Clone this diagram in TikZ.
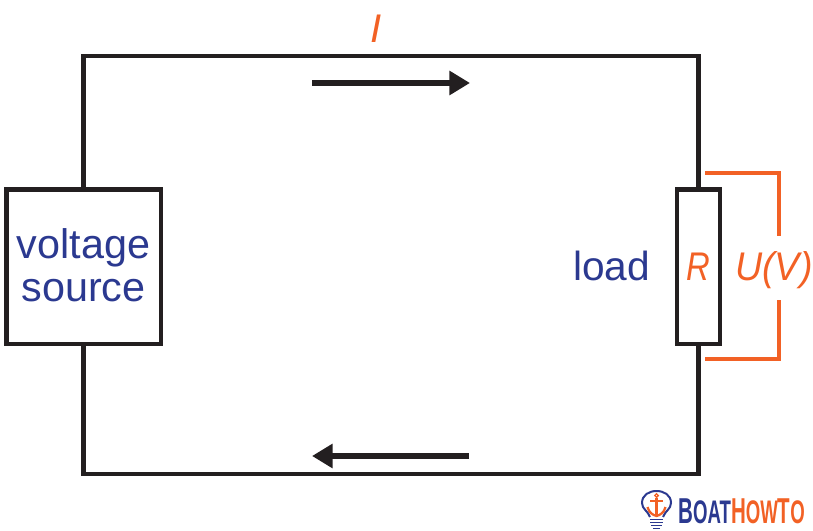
\documentclass[tikz,border=0pt]{standalone}
\usepackage{fontspec}
\setmainfont{Liberation Sans}
\usetikzlibrary{arrows.meta}
\definecolor{wire}{HTML}{231F20}
\definecolor{navy}{HTML}{2B3990}
\definecolor{flame}{HTML}{F26125}
\tikzset{
  wireline/.style={draw=wire,line width=3.5pt,line join=miter},
  box/.style={wireline,fill=white,rectangle,inner sep=0pt},
  flow/.style={draw=wire,line width=4pt,-{Triangle[length=15.5pt,width=17.5pt]}},
  meter/.style={draw=flame,line width=2.5pt},
  lab/.style={inner sep=0pt,anchor=base west,font=\fontsize{30.5}{32}\selectfont},
  bluelab/.style={lab,text=navy},
  redlab/.style={lab,text=flame,font=\fontsize{30}{32}\selectfont\itshape},
}
\begin{document}
\begin{tikzpicture}[x=0.75pt,y=-0.75pt]
\useasboundingbox (0,0) rectangle (813,531);
% corners
\coordinate (tl) at (83.5,56);
\coordinate (tr) at (698.5,56);
\coordinate (bl) at (83.5,474);
\coordinate (br) at (698.5,474);
% boxes
\node[box,minimum width=116pt,minimum height=116pt,align=center,text=navy,
      font=\fontsize{31}{32.2}\selectfont] (src) at (83.5,266.5) {voltage\\source\rule[-2pt]{0pt}{2pt}};
\node[box,minimum width=32.3pt,minimum height=116pt] (rload) at (698.5,266.5) {};
% wires
\draw[wireline] (src.north) -- (tl) -- (tr) -- (rload.north);
\draw[wireline] (src.south) -- (bl) -- (br) -- (rload.south);
% current arrows
\coordinate (a1) at (312,83);
\coordinate (a2) at (470,83);
\coordinate (b1) at (469,456);
\coordinate (b2) at (312,456);
\draw[flow] (a1) -- (a2);
\draw[flow] (b1) -- (b2);
% labels
\node[bluelab] (loadlab) at (573,280) {load};
\node[redlab] (rlab) at (686,280) {\scalebox{0.82}[1]{R}};
\node[redlab] (ulab) at (735,280) {\scalebox{0.94}[1]{U(V)}};
\node[redlab] (ilab) at (370.5,43) {I};
% voltage bracket
\coordinate (m1) at (705,173);
\coordinate (m2) at (779,173);
\coordinate (m3) at (779,236);
\coordinate (m4) at (779,300);
\coordinate (m5) at (779,359);
\coordinate (m6) at (705,359);
\draw[meter] (m1) -- (m2) -- (m3);
\draw[meter] (m4) -- (m5) -- (m6);
% logo bulb
\draw[navy,line width=1.5pt] (650,517) .. controls (648,511) and (642,509) .. (642,503)
   .. controls (642,495) and (649,491) .. (656.5,491)
   .. controls (664,491) and (671,495) .. (671,503)
   .. controls (671,509) and (665,511) .. (663,517);
\draw[navy,line width=1.3pt] (650,519.5) -- (663,519.5) (650,522.5) -- (663,522.5) (651,525.5) -- (662,525.5) (653,528.5) -- (660,528.5);
\draw[flame,line width=1.7pt] (656.5,498) -- (656.5,516) (650,501) -- (663,501);
\draw[flame,line width=1.7pt] (647.5,507) .. controls (649,513) and (653,515) .. (656.5,516) .. controls (660,515) and (664,513) .. (665.5,507);
\draw[flame,line width=1pt] (656.5,495.5) circle (1.8);
% logo text
\node[inner sep=0pt,anchor=base west] (logo) at (678,523)
  {\scalebox{0.57}[1]{\bfseries\fontsize{27}{27}\selectfont\textcolor{navy}{B\fontsize{24.5}{27}\selectfont OAT}\textcolor{flame}{\fontsize{27}{27}\selectfont H\fontsize{24.5}{27}\selectfont OW\fontsize{27}{27}\selectfont T\fontsize{24.5}{27}\selectfont O}}};
\end{tikzpicture}
\end{document}
